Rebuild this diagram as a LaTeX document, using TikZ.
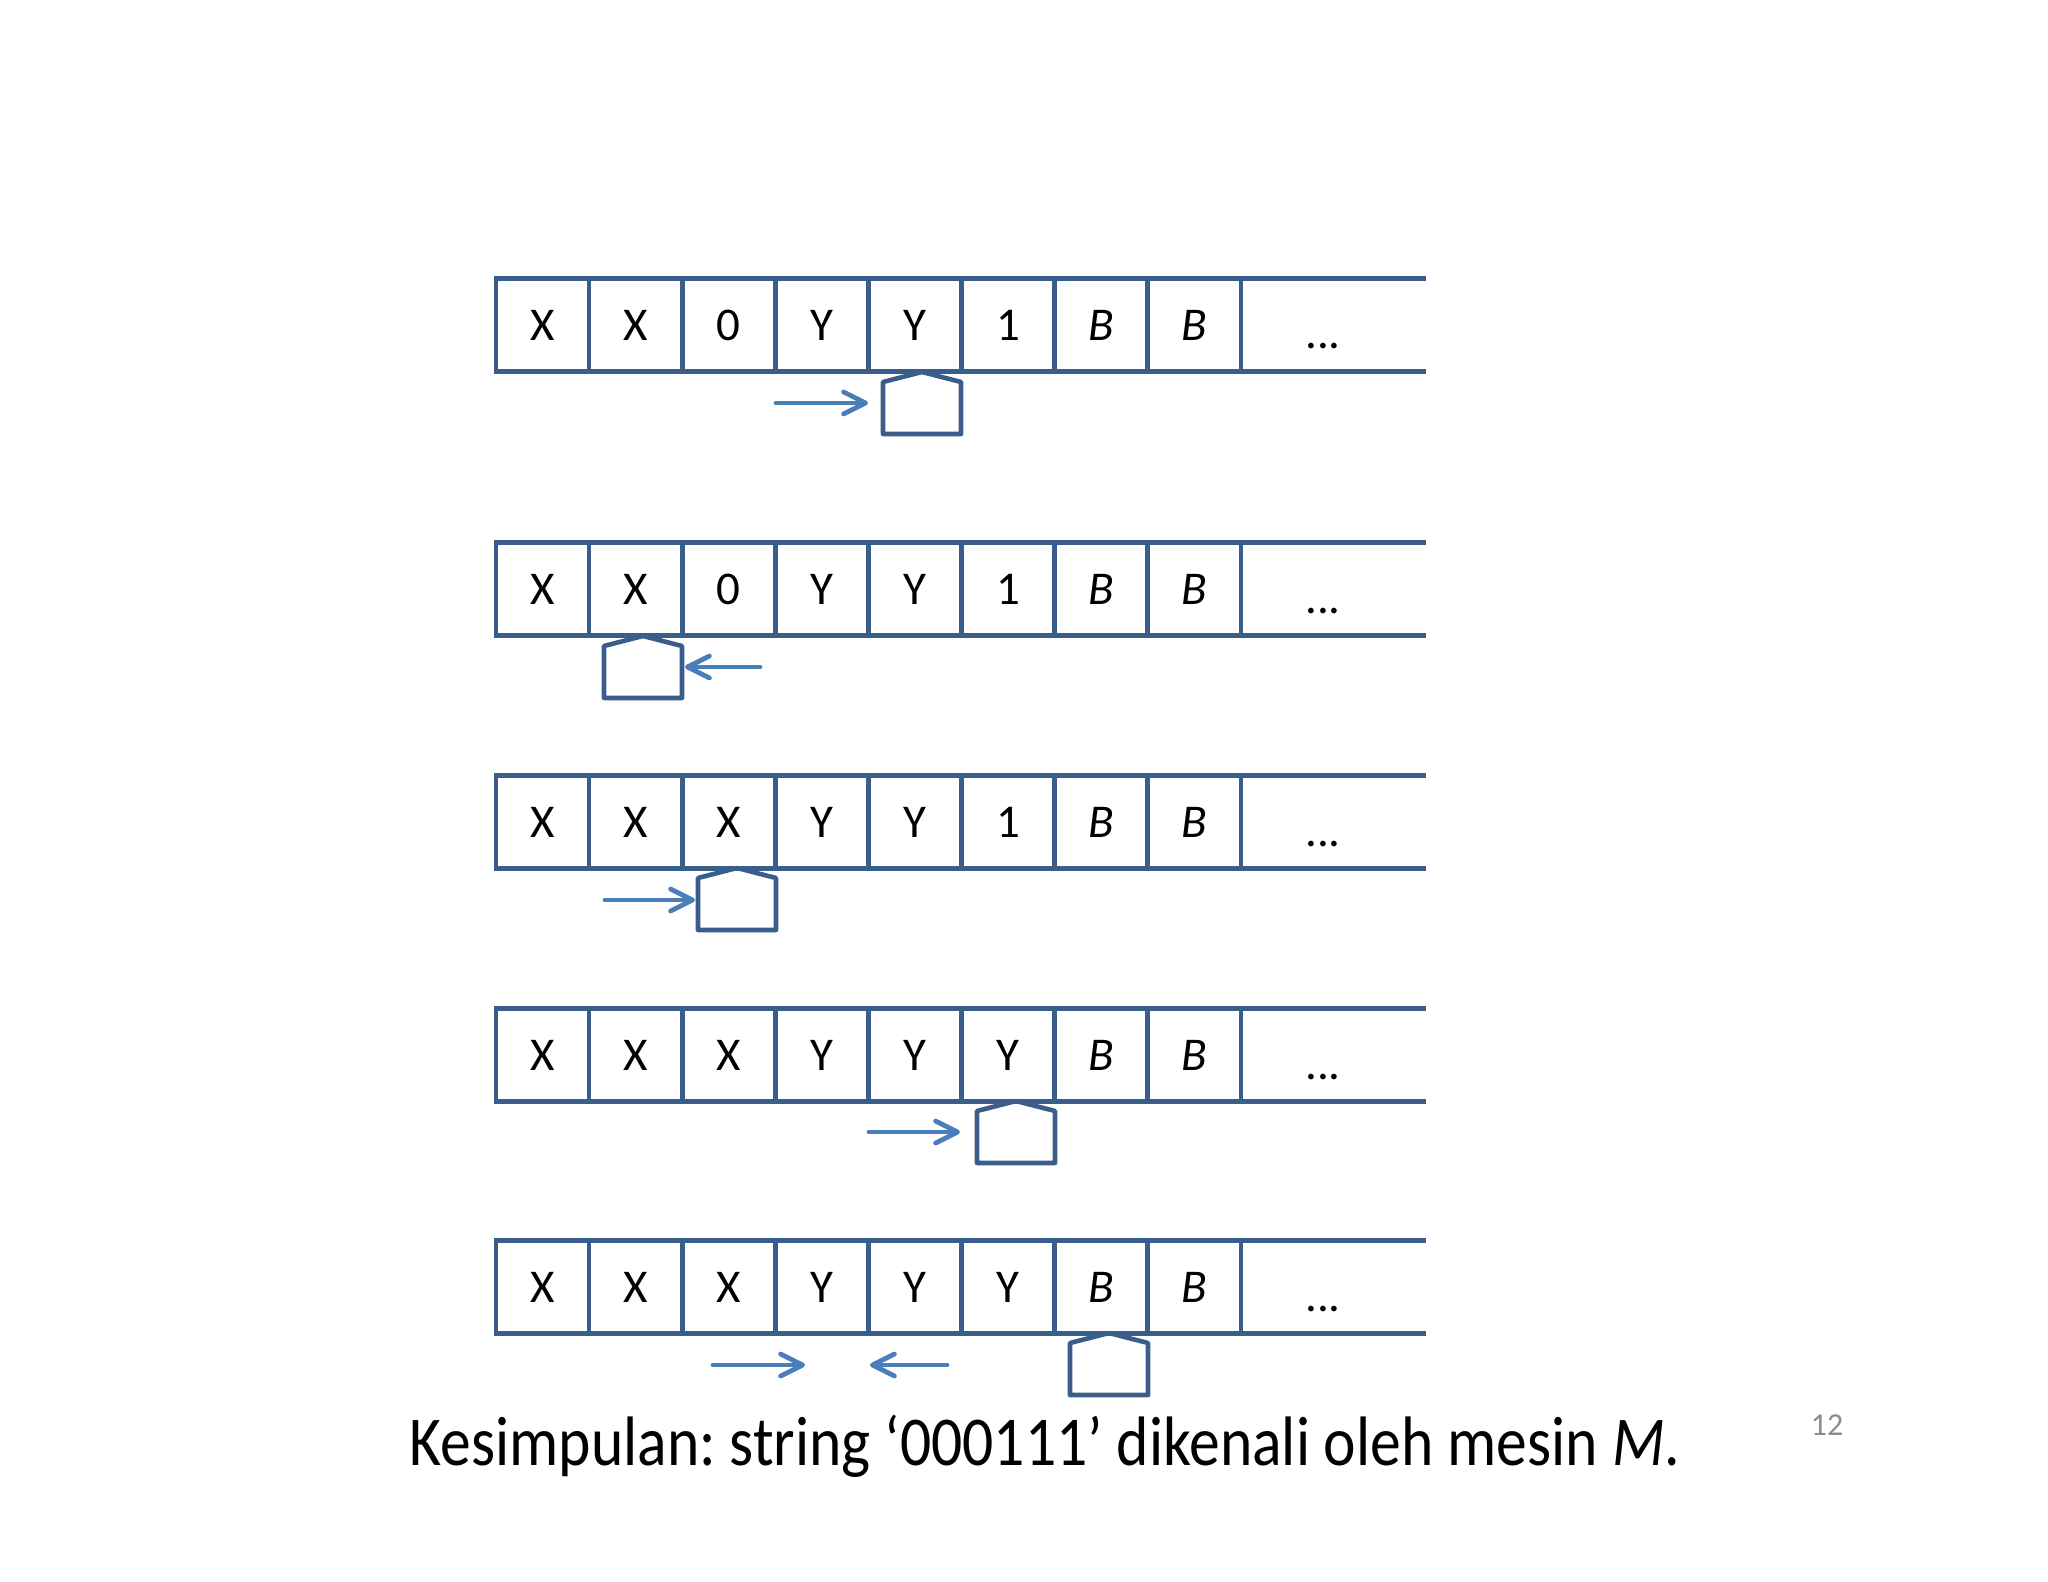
\documentclass[tikz,border=0pt]{standalone}
\usepackage{fontspec}
\setmainfont{Carlito}
\usetikzlibrary{arrows.meta}
\definecolor{tapeblue}{HTML}{3A5E8C}
\definecolor{arrowblue}{HTML}{4A7EBB}
\definecolor{pagegray}{HTML}{8C8C8C}
\tikzset{
  cell/.style={draw=tapeblue, line width=2.3pt, minimum width=46.55pt, minimum height=46.5pt,
    inner sep=0pt, outer sep=0pt, font=\fontsize{23.5}{28}\selectfont},
  tapeend/.style={draw=tapeblue, line width=2.3pt},
  headbox/.style={draw=tapeblue, line width=2.3pt, line join=round},
  movearrow/.style={draw=arrowblue, line width=2.4pt, line cap=round,
    -{Straight Barb[length=11pt,width=11pt,round]}},
}
\newcommand{\tapehead}[2]{%
  \draw[headbox] (#1-39,#2+10) -- (#1,#2) -- (#1+39,#2+10) -- (#1+39,#2+62) -- (#1-39,#2+62) -- cycle;}
\begin{document}
\frenchspacing
\begin{tikzpicture}[x=0.5pt,y=-0.5pt]
\useasboundingbox (0,0) rectangle (2048,1582);
\foreach \r/\yc/\syms in {
  1/325/{X,X,0,Y,Y,1,\textit{B},\textit{B}},
  2/589/{X,X,0,Y,Y,1,\textit{B},\textit{B}},
  3/822/{X,X,X,Y,Y,1,\textit{B},\textit{B}},
  4/1055/{X,X,X,Y,Y,Y,\textit{B},\textit{B}},
  5/1287/{X,X,X,Y,Y,Y,\textit{B},\textit{B}}} {
  \foreach \s [count=\i from 0] in \syms {
    \node[cell] (c\r-\i) at ({496+93.1*(\i+0.5)},\yc) {\s};
  }
  \draw[tapeend] (c\r-7.north east) -- ++(185,0);
  \draw[tapeend] (c\r-7.south east) -- ++(185,0);
  \node[anchor=base, font=\fontsize{23.5}{28}\selectfont] (dots\r) at (1323,\yc+24) {...};
}
% heads
\tapehead{922}{372}
\tapehead{643}{636}
\tapehead{737}{868}
\tapehead{1016}{1101}
\tapehead{1109}{1333}
% arrows
\coordinate (a1s) at (776,403);  \coordinate (a1e) at (868,403);
\coordinate (a2s) at (760,667);  \coordinate (a2e) at (685,667);
\coordinate (a3s) at (605,900);  \coordinate (a3e) at (695,900);
\coordinate (a4s) at (869,1132); \coordinate (a4e) at (960,1132);
\coordinate (a5s) at (713,1365); \coordinate (a5e) at (805,1365);
\coordinate (a6s) at (947,1365); \coordinate (a6e) at (870,1365);
\draw[movearrow] (a1s) -- (a1e);
\draw[movearrow] (a2s) -- (a2e);
\draw[movearrow] (a3s) -- (a3e);
\draw[movearrow] (a4s) -- (a4e);
\draw[movearrow] (a5s) -- (a5e);
\draw[movearrow] (a6s) -- (a6e);
% texts
\node[anchor=base, xscale=0.88, font=\fontsize{35}{42}\selectfont] (concl) at (1045,1465)
  {Kesimpulan: string ‘000111’ dikenali oleh mesin \textit{M}.};
\node[anchor=base, text=pagegray, font=\fontsize{16}{19}\selectfont] (pnum) at (1827,1435) {12};
\end{tikzpicture}
\end{document}
